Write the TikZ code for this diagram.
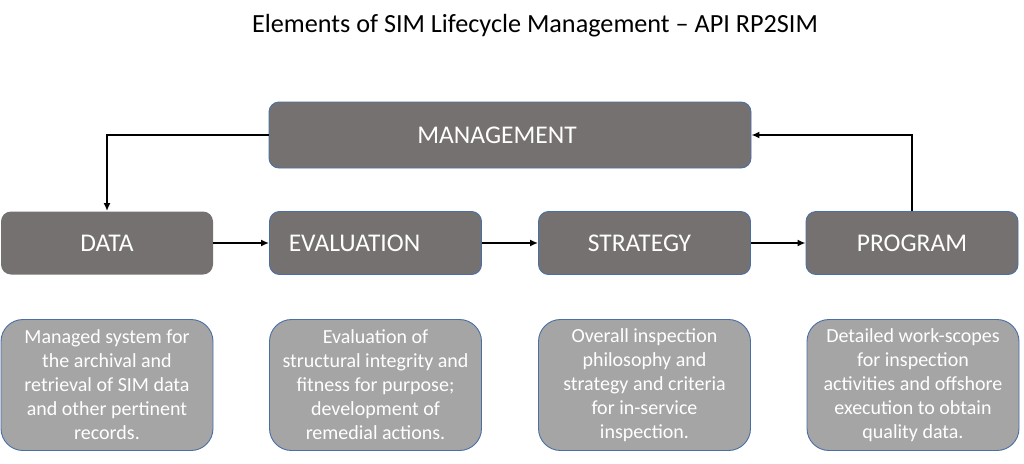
\documentclass[tikz,border=0pt]{standalone}
\usepackage{fontspec}
\setmainfont{Carlito}
\usetikzlibrary{arrows.meta}
\definecolor{darkbox}{HTML}{767171}
\definecolor{lightbox}{HTML}{A5A5A5}
\definecolor{edgeblue}{HTML}{4A6FA5}
\tikzset{
  topbox/.style={draw=edgeblue, line width=0.9pt, fill=darkbox, rounded corners=10pt,
    minimum width=212pt, minimum height=63pt, inner sep=0pt},
  lbl/.style={text=white, font=\fontsize{25.5}{30}\selectfont, inner sep=0pt},
  descbox/.style={draw=edgeblue, line width=0.9pt, fill=lightbox, rounded corners=22pt,
    minimum width=212pt, minimum height=131pt, inner sep=0pt, text=white, align=center,
    font=\fontsize{20}{24}\selectfont},
  conn/.style={line width=2pt, -{Latex[length=8pt,width=7pt]}},
}
\begin{document}
\begin{tikzpicture}[x=1pt,y=-1pt]
\useasboundingbox (0,0) rectangle (1024,463);
\node[font=\fontsize{26.2}{30}\selectfont, inner sep=0pt, anchor=base] (title) at (535,32) {Elements of SIM Lifecycle Management -- API RP2SIM};

\node[topbox, minimum width=482pt, minimum height=66pt] (mgmt) at (510,135) {};
\node[lbl] (mgmtl) at ([xshift=-13pt]mgmt.center) {MANAGEMENT};

\node[topbox, draw=none] (data) at (107,243) {};
\node[lbl] (datal) at (data.center) {DATA};
\node[topbox] (eval) at (375.5,243) {};
\node[lbl] (evall) at ([xshift=-21pt]eval.center) {EVALUATION};
\node[topbox] (strat) at (644.5,243) {};
\node[lbl] (stratl) at ([xshift=-5pt]strat.center) {STRATEGY};
\node[topbox] (prog) at (912,243) {};
\node[lbl] (progl) at (prog.center) {PROGRAM};

\draw[conn] (mgmt.west) -| (data.north);
\draw[conn] (prog.north) |- (mgmt.east);
\draw[conn] (data.east) -- (eval.west);
\draw[conn] (eval.east) -- (strat.west);
\draw[conn] (strat.east) -- (prog.west);

\node[descbox] (d1) at (107,385) {Managed system for\\the archival and\\retrieval of SIM data\\and other pertinent\\records.};
\node[descbox] (d2) at (375.5,385) {Evaluation of\\structural integrity and\\fitness for purpose;\\development of\\remedial actions.};
\node[descbox] (d3) at (644.5,385) {Overall inspection\\philosophy and\\strategy and criteria\\for in-service\\inspection.};
\node[descbox] (d4) at (913,385) {Detailed work-scopes\\for inspection\\activities and offshore\\execution to obtain\\quality data.};
\end{tikzpicture}
\end{document}
